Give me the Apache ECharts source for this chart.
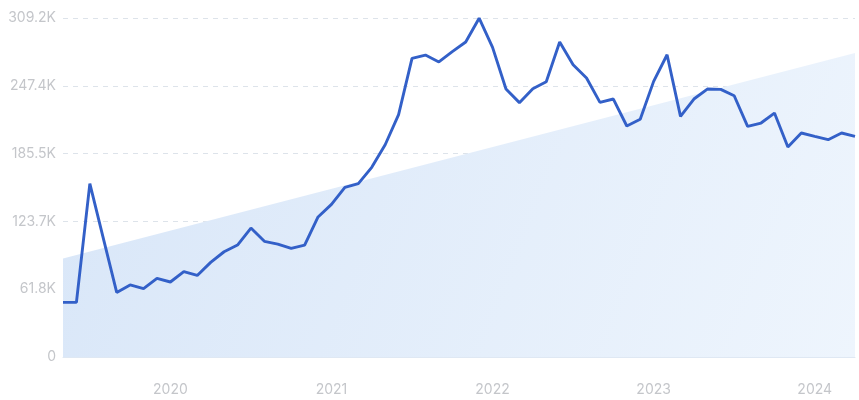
<!DOCTYPE html>
<html>
<head>
<meta charset="utf-8">
<script src="https://cdn.jsdelivr.net/npm/echarts@6/dist/echarts.min.js"></script>
<style>html,body{margin:0;padding:0;background:#fff}#c{width:859px;height:400px}</style>
</head>
<body>
<div id="c"></div>
<script>
// Months May 2019 .. Apr 2024
const months = [];
for (let y = 2019, m = 5; months.length < 60; ) {
  months.push(y + '-' + String(m).padStart(2, '0'));
  m++; if (m > 12) { m = 1; y++; }
}
// Series values (in K)
const values = [
  49.8, 49.8, 158.1, 108.5, 58.9, 65.7, 62.3, 71.7, 68.4, 77.8,
  74.4, 86.3, 96.0, 102.1, 117.6, 105.5, 103.0, 99.1, 102.1, 127.7,
  139.2, 154.7, 158.1, 173.0, 193.6, 221.0, 272.4, 275.4, 269.1, 278.5,
  287.3, 309.0, 282.4, 244.4, 232.0, 244.7, 251.1, 287.3, 266.6, 254.5,
  232.2, 235.3, 210.7, 216.8, 251.4, 275.7, 219.5, 235.3, 244.4, 244.1,
  238.3, 210.3, 213.4, 222.5, 191.5, 204.3, 201.2, 198.2, 204.3, 201.2
];
// Trend line endpoints (in K)
const trendStart = 89.9;
const trendEnd = 277.3;
const yTickLabels = ['0', '61.8K', '123.7K', '185.5K', '247.4K', '309.2K'];
const yMax = 309.2;

const trend = months.map((_, i) => i === 0 ? trendStart : (i === months.length - 1 ? trendEnd : null));

const chart = echarts.init(document.getElementById('c'));
chart.setOption({
  animation: false,
  grid: { left: 63, right: 4, top: 18, bottom: 43 },
  xAxis: {
    type: 'category',
    data: months,
    boundaryGap: false,
    axisLine: { show: true, lineStyle: { color: '#dfe8f3', width: 1 } },
    axisTick: { show: false },
    axisLabel: {
      interval: (idx, val) => val.endsWith('-01'),
      formatter: v => v.slice(0, 4),
      color: '#c4c6ca', fontSize: 14, margin: 26, fontFamily: 'Inter'
    },
    splitLine: { show: false }
  },
  yAxis: {
    type: 'value',
    min: 0, max: yMax, interval: yMax / 5,
    axisLine: { show: false },
    axisTick: { show: false },
    axisLabel: {
      formatter: (v) => yTickLabels[Math.round(v / (yMax / 5))],
      color: '#c4c6ca', fontSize: 14, margin: 7, fontFamily: 'Inter'
    },
    splitLine: { show: true, lineStyle: { color: '#dde3ea', type: [5, 5], width: 1 } }
  },
  series: [
    {
      type: 'line',
      data: trend,
      connectNulls: true,
      showSymbol: false,
      symbol: 'none',
      lineStyle: { width: 0, opacity: 0 },
      areaStyle: {
        opacity: 1,
        color: new echarts.graphic.LinearGradient(0, 0, 1, 1, [
          { offset: 0, color: '#d8e6f8' },
          { offset: 1, color: '#eef5fd' }
        ])
      },
      silent: true,
      z: 1
    },
    {
      type: 'line',
      data: values,
      showSymbol: false,
      symbol: 'none',
      lineStyle: { color: '#3360c8', width: 2.9 },
      z: 3
    }
  ]
});
</script>
</body>
</html>
